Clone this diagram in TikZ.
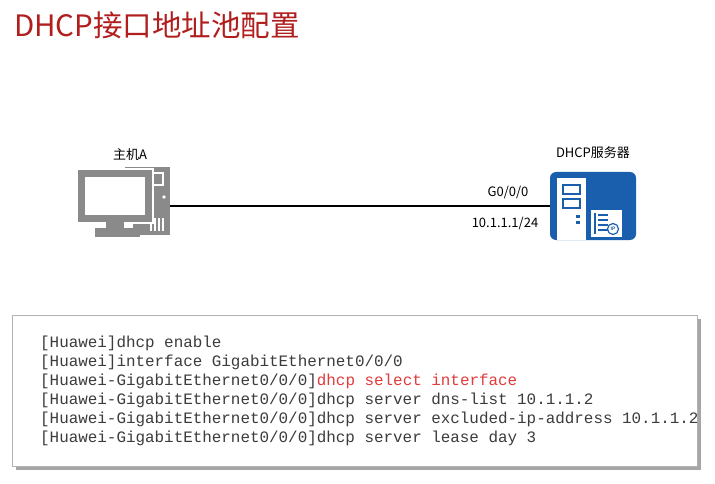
\documentclass[tikz,border=0pt]{standalone}
\usepackage{fontspec}
\setmainfont{Liberation Sans}
\setmonofont{Liberation Mono}
\newfontfamily\cjk{Noto Sans CJK SC}
\definecolor{titred}{HTML}{B01E1E}
\definecolor{srvblue}{HTML}{1A5FAE}
\definecolor{pcgray}{HTML}{8A8A8A}
\definecolor{codegray}{HTML}{3C3C3C}
\definecolor{codered}{HTML}{E03C3C}
\begin{document}
\begin{tikzpicture}[x=1pt,y=-1pt,
  lbl/.style={font=\cjk\fontsize{13}{15}\selectfont,inner sep=0},
  code/.style={font=\ttfamily\fontsize{15.9}{18}\selectfont,text=codegray,anchor=west,inner sep=0}]
\useasboundingbox (0,0) rectangle (715,484);
\node[anchor=west,inner sep=0,text=titred,font=\cjk\fontsize{29.5}{32}\selectfont] (title) at (14,25) {DHCP接口地址池配置};
% PC
\fill[pcgray] (125,167) rectangle (170,235);
\fill[white] (131,172) rectangle (164,186);
\fill[pcgray] (133,174) rectangle (162,184);
\fill[white] (164,197) circle (1.8);
\foreach \i in {0,1,2,3} \fill[white] (150+\i*4,218) rectangle (151.5+\i*4,231);
\fill[white] (76,168) rectangle (154,224);
\fill[pcgray] (78,170) rectangle (152,222);
\fill[white] (85,177) rectangle (145,215);
\fill[white] (97,222) rectangle (133,238);
\fill[pcgray] (106,222) rectangle (124,228);
\fill[pcgray] (95,228) rectangle (140,237);
\coordinate (pc) at (170,206);
\node[lbl] (pcl) at (130,155) {主机A};
% server
\node[fill=srvblue,rounded corners=6,minimum width=86,minimum height=68,inner sep=0] (srv) at (593,206) {};
\fill[white] (557,178) rectangle (586,240);
\draw[srvblue,line width=1.5] (563,185) rectangle (580,194);
\draw[srvblue,line width=1.5] (563,199) rectangle (580,208);
\fill[srvblue] (576,215) rectangle (580,218);
\fill[srvblue] (576,221) rectangle (580,224);
\fill[white] (591,210) rectangle (622,237);
\fill[srvblue] (594,213) rectangle (596,234);
\foreach \yy in {214,219,224,229} \fill[srvblue] (598,\yy) rectangle (608,\yy+2);
\draw[srvblue,line width=1.2] (613,229) circle (5.5);
\node[text=srvblue,font=\fontsize{5}{5}\selectfont\bfseries,inner sep=0] at (613,229) {IP};
\node[lbl] (srvl) at (593,153) {DHCP服务器};
\draw[line width=2.2] (pc) -- (srv.west);
\node[lbl] (g) at (508,193) {G0/0/0};
\node[lbl] (ip) at (505,224) {10.1.1.1/24};
% code box
\fill[gray!70] (16,319) rectangle (701,470);
\node[draw=gray!60,fill=white,minimum width=685,minimum height=151,inner sep=0,anchor=north west] (box) at (12,315) {};
\node[code] (c1) at (40,343) {[Huawei]dhcp enable};
\node[code] (c2) at (40,362) {[Huawei]interface GigabitEthernet0/0/0};
\node[code] (c3) at (40,381) {[Huawei-GigabitEthernet0/0/0]\textcolor{codered}{dhcp select interface}};
\node[code] (c4) at (40,400) {[Huawei-GigabitEthernet0/0/0]dhcp server dns-list 10.1.1.2};
\node[code] (c5) at (40,419) {[Huawei-GigabitEthernet0/0/0]dhcp server excluded-ip-address 10.1.1.2};
\node[code] (c6) at (40,438) {[Huawei-GigabitEthernet0/0/0]dhcp server lease day 3};
\end{tikzpicture}
\end{document}
